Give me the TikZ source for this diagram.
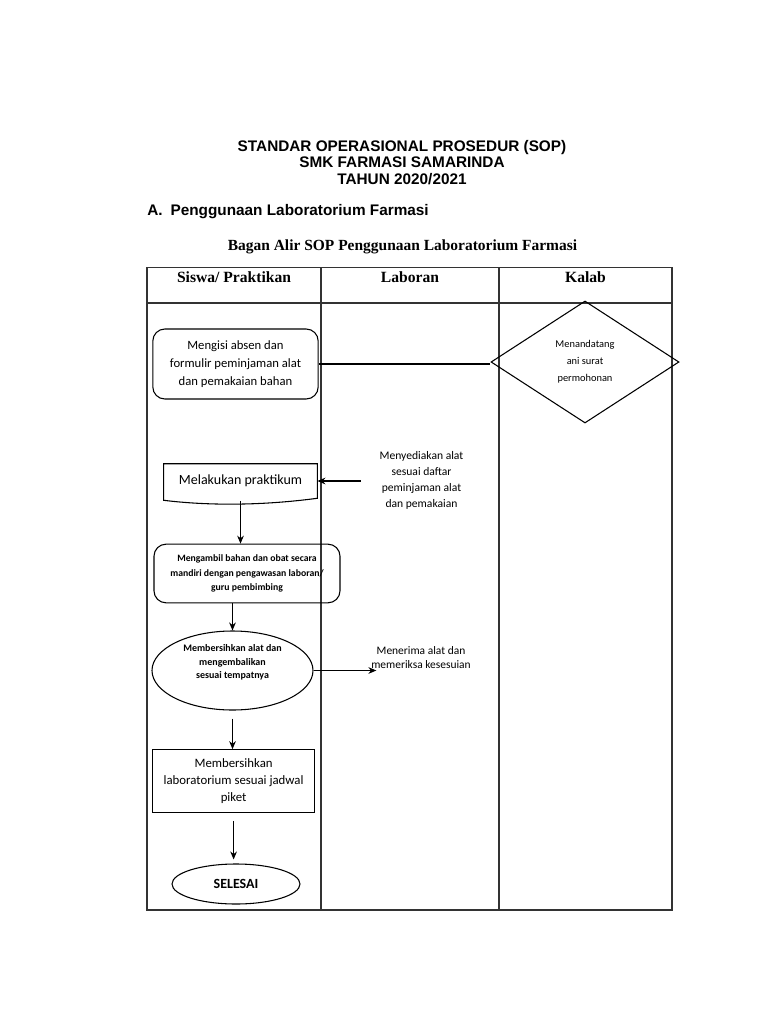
\documentclass[tikz,border=0pt]{standalone}
\usepackage{fontspec}
\setmainfont{Carlito}
\newfontfamily\arialfont{Liberation Sans}
\newfontfamily\timesfont{Liberation Serif}
\usepackage{tikz}
\usetikzlibrary{arrows.meta,positioning,calc,shapes.geometric}

\tikzset{
  lane/.style={line width=0.8pt, black!80},
  proc/.style={draw, line width=0.8pt, align=center, inner sep=0pt},
  rproc/.style={proc, rounded corners=9pt},
  freetext/.style={align=center, inner sep=0pt},
  headtext/.style={font=\timesfont\bfseries\fontsize{11.7}{14}\selectfont},
  flow/.style={->, line width=0.8pt},
}

\begin{document}
\begin{tikzpicture}[x=0.75pt, y=-0.75pt, >={Stealth[length=6pt,width=5pt]}]
    \useasboundingbox[fill=white] (0,0) rectangle (768,1024);

    % Headings
    \node[align=center, font=\arialfont\bfseries\fontsize{11.5}{12.4}\selectfont] (title) at (402,162.5)
        {STANDAR OPERASIONAL PROSEDUR (SOP)\\SMK FARMASI SAMARINDA\\TAHUN 2020/2021};
    \node[anchor=west, inner sep=0pt, font=\arialfont\bfseries\fontsize{11.5}{14}\selectfont] (section) at (147,212)
        {A.\hspace{6pt}Penggunaan Laboratorium Farmasi};
    \node[font=\timesfont\bfseries\fontsize{11.6}{14}\selectfont] (caption) at (402.5,247)
        {Bagan Alir SOP Penggunaan Laboratorium Farmasi};

    % Swimlane table
    \draw[lane] (147,267.6) rectangle (672,910);
    \draw[lane] (147,303) -- (672,303);
    \draw[lane] (321,267.6) -- (321,910);
    \draw[lane] (499,267.6) -- (499,910);
    \node[headtext] (siswa) at (234,277) {Siswa/ Praktikan};
    \node[headtext] (laboran) at (410,277) {Laboran};
    \node[headtext] (kalab) at (585.5,277) {Kalab};

    % Siswa / Praktikan lane
    \node[rproc, minimum width=124pt, minimum height=52.5pt, font=\fontsize{9.5}{13.5}\selectfont] (absen) at (235.5,364)
        {Mengisi absen dan\\formulir peminjaman alat\\dan pemakaian bahan};
    \node[freetext, minimum width=115pt, minimum height=25.5pt, font=\fontsize{10.5}{13}\selectfont] (praktik) at (240.5,481)
        {Melakukan praktikum};
    \draw[line width=0.8pt] (praktik.south west) -- (praktik.north west) -- (praktik.north east) -- (praktik.south east)
        .. controls ($(praktik.south east)+(-60,8)$) and ($(praktik.south west)+(40,7)$) .. ($(praktik.south west)+(0,2)$) -- cycle;
    \node[rproc, minimum width=139.5pt, minimum height=44pt, font=\bfseries\fontsize{7.3}{10.9}\selectfont] (ambil) at (247,573.5)
        {Mengambil bahan dan obat secara\\mandiri dengan pengawasan laboran/\\guru pembimbing};
    \node[proc, ellipse, minimum width=120.75pt, minimum height=59.25pt,
          label={[freetext, yshift=6pt, font=\bfseries\fontsize{7.5}{10}\selectfont]center:{Membersihkan alat dan\\mengembalikan\\sesuai tempatnya}}] (bersih) at (232.5,670.5) {};
    \node[proc, minimum width=121.5pt, minimum height=47pt, font=\fontsize{9.6}{13}\selectfont] (piket) at (233.6,781)
        {Membersihkan\\laboratorium sesuai jadwal\\piket};
    \node[proc, ellipse, minimum width=96pt, minimum height=30pt, font=\bfseries\fontsize{10.5}{12}\selectfont] (selesai) at (236,884)
        {SELESAI};

    % Laboran lane
    \node[freetext, font=\fontsize{8.7}{12}\selectfont] (sedia) at (421.5,480)
        {Menyediakan alat\\sesuai daftar\\peminjaman alat\\dan pemakaian};
    \node[freetext, font=\fontsize{8.6}{10.5}\selectfont] (terima) at (421,658)
        {Menerima alat dan\\memeriksa kesesuian};

    % Kalab lane
    \node[proc, diamond, minimum width=141pt, minimum height=91.5pt, font=\fontsize{7.8}{12.75}\selectfont] (ttd) at (585,362)
        {Menandatang\\ani surat\\permohonan};

    % Connectors
    \draw[line width=0.8pt] (absen.east) -- (absen.east -| ttd.west);
    \draw[flow] ([xshift=-14pt]sedia.west |- praktik.east) -- (praktik.east);
    \draw[flow] ([yshift=-2pt]praktik.south) -- (praktik.south |- ambil.north);
    \draw[flow] (bersih.north |- ambil.south) -- (bersih.north);
    \draw[flow] (bersih.east) -- ([xshift=4pt]bersih.east -| terima.west);
    \draw[flow, shorten <=6pt] (bersih.south) -- (bersih.south |- piket.north);
    \draw[flow, shorten <=6pt, shorten >=3pt] (piket.south) -- (piket.south |- selesai.north);

\end{tikzpicture}
\end{document}
